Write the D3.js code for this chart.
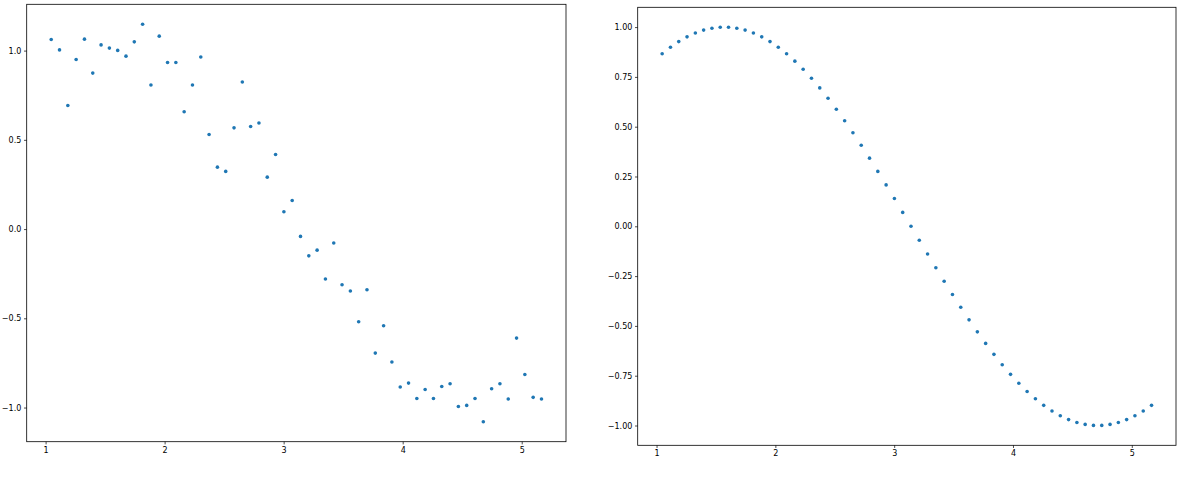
<!DOCTYPE html>
<html>
<head>
<meta charset="utf-8">
<script src="https://cdn.jsdelivr.net/npm/d3@7"></script>
<style>
  html, body { margin: 0; padding: 0; background: #fff; }
  svg { display: block; }
  text { font-family: "DejaVu Sans", sans-serif; }
</style>
</head>
<body>
<svg id="chart" width="1200" height="482"></svg>
<script>
// x values (radians, 60° to 296° in 4° steps)
const xValues = [1.0472, 1.1170, 1.1868, 1.2566, 1.3265, 1.3963, 1.4661, 1.5359, 1.6057, 1.6755,
  1.7453, 1.8151, 1.8850, 1.9548, 2.0246, 2.0944, 2.1642, 2.2340, 2.3038, 2.3736,
  2.4435, 2.5133, 2.5831, 2.6529, 2.7227, 2.7925, 2.8623, 2.9322, 3.0020, 3.0718,
  3.1416, 3.2114, 3.2812, 3.3510, 3.4208, 3.4907, 3.5605, 3.6303, 3.7001, 3.7699,
  3.8397, 3.9095, 3.9794, 4.0492, 4.1190, 4.1888, 4.2586, 4.3284, 4.3982, 4.4680,
  4.5379, 4.6077, 4.6775, 4.7473, 4.8171, 4.8869, 4.9567, 5.0265, 5.0964, 5.1662];

// left panel: noisy observations
const noisyValues = [1.062, 1.004, 0.692, 0.950, 1.064, 0.874, 1.032, 1.014, 1.001, 0.969,
  1.049, 1.148, 0.807, 1.081, 0.933, 0.933, 0.657, 0.807, 0.964, 0.530,
  0.347, 0.323, 0.567, 0.824, 0.575, 0.594, 0.291, 0.418, 0.097, 0.160,
  -0.041, -0.150, -0.118, -0.280, -0.078, -0.312, -0.347, -0.519, -0.340, -0.695,
  -0.542, -0.745, -0.885, -0.863, -0.949, -0.899, -0.949, -0.882, -0.867, -0.994,
  -0.988, -0.949, -1.080, -0.895, -0.867, -0.952, -0.611, -0.815, -0.943, -0.952];

// right panel: clean sine curve
const sineValues = [0.8660, 0.8988, 0.9272, 0.9511, 0.9703, 0.9848, 0.9945, 0.9994, 0.9994, 0.9945,
  0.9848, 0.9703, 0.9511, 0.9272, 0.8988, 0.8660, 0.8290, 0.7880, 0.7431, 0.6947,
  0.6428, 0.5878, 0.5299, 0.4695, 0.4067, 0.3420, 0.2756, 0.2079, 0.1392, 0.0698,
  0.0000, -0.0698, -0.1392, -0.2079, -0.2756, -0.3420, -0.4067, -0.4695, -0.5299, -0.5878,
  -0.6428, -0.6947, -0.7431, -0.7880, -0.8290, -0.8660, -0.8988, -0.9272, -0.9511, -0.9703,
  -0.9848, -0.9945, -0.9994, -0.9994, -0.9945, -0.9848, -0.9703, -0.9511, -0.9272, -0.8988];

// tick labels
const xTicks = [1, 2, 3, 4, 5];
const leftYTicks = [-1.0, -0.5, 0.0, 0.5, 1.0];
const leftYLabels = ["\u22121.0", "\u22120.5", "0.0", "0.5", "1.0"];
const rightYTicks = [-1.0, -0.75, -0.5, -0.25, 0.0, 0.25, 0.5, 0.75, 1.0];
const rightYLabels = ["\u22121.00", "\u22120.75", "\u22120.50", "\u22120.25", "0.00", "0.25", "0.50", "0.75", "1.00"];

const svg = d3.select("#chart");

function padded(vals) {
  const [a, b] = d3.extent(vals);
  const p = (b - a) * 0.05;
  return [a - p, b + p];
}

function panel(box, ys, yTicks, yLabels) {
  const x = d3.scaleLinear().domain(padded(xValues)).range([box.x0, box.x1]);
  const y = d3.scaleLinear().domain(padded(ys)).range([box.y1, box.y0]);
  const g = svg.append("g");

  const xAxis = d3.axisBottom(x).tickValues(xTicks).tickFormat(d3.format("d"))
    .tickSizeInner(2.7).tickSizeOuter(0).tickPadding(2.7);
  const gx = g.append("g").attr("transform", `translate(0,${box.y1})`).call(xAxis);

  const yAxis = d3.axisLeft(y).tickValues(yTicks)
    .tickFormat((d, i) => yLabels[i])
    .tickSizeInner(2.7).tickSizeOuter(0).tickPadding(2.7);
  const gy = g.append("g").attr("transform", `translate(${box.x0},0)`).call(yAxis);

  [gx, gy].forEach(a => {
    a.select(".domain").remove();
    a.selectAll(".tick line").attr("stroke", "#000").attr("stroke-width", 0.7);
    a.selectAll(".tick text").attr("fill", "#000")
      .style("font-family", "'DejaVu Sans', sans-serif").style("font-size", "8px");
  });

  g.append("g").selectAll("circle").data(ys).join("circle")
    .attr("cx", (d, i) => x(xValues[i]))
    .attr("cy", d => y(d))
    .attr("r", 1.8)
    .attr("fill", "#1f77b4");

  g.append("rect")
    .attr("x", box.x0).attr("y", box.y0)
    .attr("width", box.x1 - box.x0).attr("height", box.y1 - box.y0)
    .attr("fill", "none").attr("stroke", "#000").attr("stroke-width", 0.8);
}

panel({x0: 26.7, x1: 566, y0: 4.3, y1: 441.7}, noisyValues, leftYTicks, leftYLabels);
panel({x0: 637.7, x1: 1176, y0: 7.3, y1: 445.3}, sineValues, rightYTicks, rightYLabels);
</script>
</body>
</html>
